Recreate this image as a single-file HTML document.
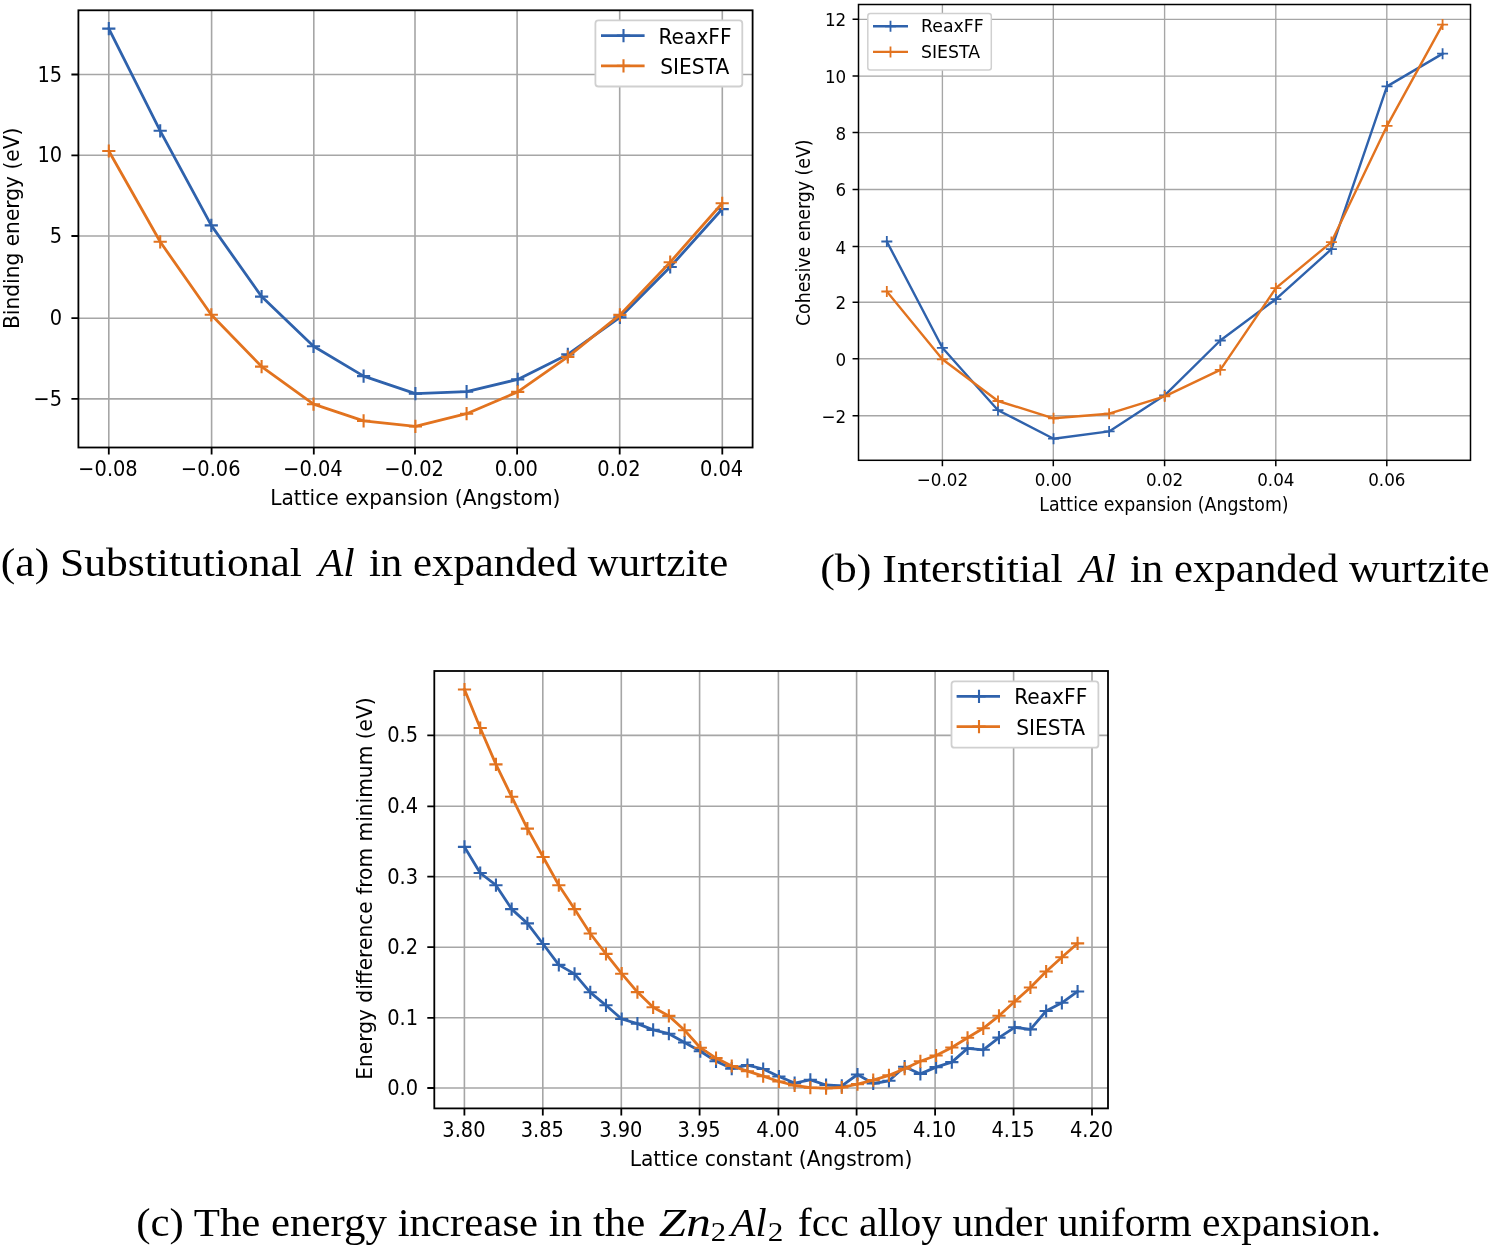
<!DOCTYPE html><html><head><meta charset="utf-8"><title>Figure</title><style>html,body{margin:0;padding:0;background:#fff;}svg{display:block;}</style></head><body>
<svg width="1491" height="1249" viewBox="0 0 1491 1249">
<rect width="1491" height="1249" fill="#fff"/>
<clipPath id="ca"><rect x="78.4" y="10.3" width="674.2" height="437.2"/></clipPath>
<path d="M108.8 10.3V447.5M211.6 10.3V447.5M313.8 10.3V447.5M415 10.3V447.5M517.1 10.3V447.5M619.7 10.3V447.5M722.3 10.3V447.5M78.4 74.5H752.6M78.4 155.3H752.6M78.4 236H752.6M78.4 318.2H752.6M78.4 398.9H752.6" stroke="#a6a6a6" stroke-width="1.6" fill="none"/>
<g clip-path="url(#ca)">
<path d="M108.8 28.6 L160.2 130.8 L211.3 225.4 L261.6 296.6 L313.5 346.3 L363.6 376.1 L415.4 393.6 L466.6 391.7 L517.7 379.4 L567.8 354.4 L619.9 317.4 L670.2 267 L722.2 209.1" stroke="#2f62ac" stroke-width="2.8" fill="none" stroke-linejoin="round" stroke-linecap="square"/>
<path d="M102.2 28.6h13.2M108.8 22v13.2M153.6 130.8h13.2M160.2 124.2v13.2M204.7 225.4h13.2M211.3 218.8v13.2M255 296.6h13.2M261.6 290v13.2M306.9 346.3h13.2M313.5 339.7v13.2M357 376.1h13.2M363.6 369.5v13.2M408.8 393.6h13.2M415.4 387v13.2M460 391.7h13.2M466.6 385.1v13.2M511.1 379.4h13.2M517.7 372.8v13.2M561.2 354.4h13.2M567.8 347.8v13.2M613.3 317.4h13.2M619.9 310.8v13.2M663.6 267h13.2M670.2 260.4v13.2M715.6 209.1h13.2M722.2 202.5v13.2" stroke="#2f62ac" stroke-width="2.1" fill="none"/>
<path d="M108.8 151 L160.2 241.8 L211.3 314.8 L261.6 366.6 L313.5 404.2 L363.6 420.9 L415.4 426.4 L466.6 413.7 L517.7 391.9 L567.8 356.9 L619.9 314.9 L670.2 262.2 L722.2 203.3" stroke="#e2731f" stroke-width="2.8" fill="none" stroke-linejoin="round" stroke-linecap="square"/>
<path d="M102.2 151h13.2M108.8 144.4v13.2M153.6 241.8h13.2M160.2 235.2v13.2M204.7 314.8h13.2M211.3 308.2v13.2M255 366.6h13.2M261.6 360v13.2M306.9 404.2h13.2M313.5 397.6v13.2M357 420.9h13.2M363.6 414.3v13.2M408.8 426.4h13.2M415.4 419.8v13.2M460 413.7h13.2M466.6 407.1v13.2M511.1 391.9h13.2M517.7 385.3v13.2M561.2 356.9h13.2M567.8 350.3v13.2M613.3 314.9h13.2M619.9 308.3v13.2M663.6 262.2h13.2M670.2 255.6v13.2M715.6 203.3h13.2M722.2 196.7v13.2" stroke="#e2731f" stroke-width="2.1" fill="none"/>
</g>
<path d="M108.8 447.5v7M211.6 447.5v7M313.8 447.5v7M415 447.5v7M517.1 447.5v7M619.7 447.5v7M722.3 447.5v7M78.4 74.5h-7M78.4 155.3h-7M78.4 236h-7M78.4 318.2h-7M78.4 398.9h-7" stroke="#000" stroke-width="1.8" fill="none"/>
<rect x="78.4" y="10.3" width="674.2" height="437.2" fill="none" stroke="#000" stroke-width="1.8" stroke-linejoin="miter" stroke-linecap="square"/>
<g font-family="DejaVu Sans, Liberation Sans, sans-serif" font-size="20" fill="#000">
<text transform="translate(108 475.7) scale(0.97 1.07)" text-anchor="middle">−0.08</text>
<text transform="translate(210.8 475.7) scale(0.97 1.07)" text-anchor="middle">−0.06</text>
<text transform="translate(313 475.7) scale(0.97 1.07)" text-anchor="middle">−0.04</text>
<text transform="translate(414.2 475.7) scale(0.97 1.07)" text-anchor="middle">−0.02</text>
<text transform="translate(516.3 475.7) scale(0.97 1.07)" text-anchor="middle">0.00</text>
<text transform="translate(618.9 475.7) scale(0.97 1.07)" text-anchor="middle">0.02</text>
<text transform="translate(721.5 475.7) scale(0.97 1.07)" text-anchor="middle">0.04</text>
<text transform="translate(62.2 81.5) scale(0.97 1.07)" text-anchor="end">15</text>
<text transform="translate(62.2 162.3) scale(0.97 1.07)" text-anchor="end">10</text>
<text transform="translate(62.2 243) scale(0.97 1.07)" text-anchor="end">5</text>
<text transform="translate(62.2 325.2) scale(0.97 1.07)" text-anchor="end">0</text>
<text transform="translate(62.2 405.9) scale(0.97 1.07)" text-anchor="end">−5</text>
<text transform="translate(415.3 504.8) scale(1 1.07)" text-anchor="middle" font-size="20.2">Lattice expansion (Angstom)</text>
<text transform="translate(18.6 228.3) rotate(-90) scale(1 1.07)" x="0" y="0" text-anchor="middle" font-size="20.2">Binding energy (eV)</text>
</g>
<rect x="595.4" y="20.4" width="146.9" height="66.1" rx="3" ry="3" fill="#fff" stroke="#d0d0d0" stroke-width="1.8"/>
<path d="M601 35.6H644.6" stroke="#2f62ac" stroke-width="2.8"/>
<path d="M616.9 35.6h13.2M623.5 29v13.2" stroke="#2f62ac" stroke-width="2.1"/>
<text transform="translate(658.5 43.6) scale(1 1.07)" font-family="DejaVu Sans, Liberation Sans, sans-serif" font-size="20.2">ReaxFF</text>
<path d="M601 65.9H644.6" stroke="#e2731f" stroke-width="2.8"/>
<path d="M616.9 65.9h13.2M623.5 59.3v13.2" stroke="#e2731f" stroke-width="2.1"/>
<text transform="translate(660.3 73.8) scale(1 1.07)" font-family="DejaVu Sans, Liberation Sans, sans-serif" font-size="20.2">SIESTA</text>
<clipPath id="cb"><rect x="858.5" y="4.5" width="612" height="455.8"/></clipPath>
<path d="M942.4 4.5V460.3M1053.3 4.5V460.3M1164.6 4.5V460.3M1275.8 4.5V460.3M1386.8 4.5V460.3M858.5 19.35H1470.5M858.5 76.1H1470.5M858.5 132.6H1470.5M858.5 189.5H1470.5M858.5 246.6H1470.5M858.5 302.3H1470.5M858.5 358.8H1470.5M858.5 415.7H1470.5" stroke="#a6a6a6" stroke-width="1.36" fill="none"/>
<g clip-path="url(#cb)">
<path d="M886.82 241.5 L942.4 347.8 L997.98 410.2 L1053.55 438.7 L1109.12 431.4 L1164.7 395.3 L1220.28 340.5 L1275.85 299.2 L1331.42 249.2 L1387 86.4 L1442.58 53.7" stroke="#2f62ac" stroke-width="2.4" fill="none" stroke-linejoin="round" stroke-linecap="square"/>
<path d="M881.32 241.5h11M886.82 236v11M936.9 347.8h11M942.4 342.3v11M992.48 410.2h11M997.98 404.7v11M1048.05 438.7h11M1053.55 433.2v11M1103.62 431.4h11M1109.12 425.9v11M1159.2 395.3h11M1164.7 389.8v11M1214.78 340.5h11M1220.28 335v11M1270.35 299.2h11M1275.85 293.7v11M1325.92 249.2h11M1331.42 243.7v11M1381.5 86.4h11M1387 80.9v11M1437.08 53.7h11M1442.58 48.2v11" stroke="#2f62ac" stroke-width="1.8" fill="none"/>
<path d="M886.82 291.5 L942.4 359.3 L997.98 401 L1053.55 418.3 L1109.12 413.7 L1164.7 396.4 L1220.28 369.9 L1275.85 288.2 L1331.42 242.1 L1387 125.9 L1442.58 24.6" stroke="#e2731f" stroke-width="2.4" fill="none" stroke-linejoin="round" stroke-linecap="square"/>
<path d="M881.32 291.5h11M886.82 286v11M936.9 359.3h11M942.4 353.8v11M992.48 401h11M997.98 395.5v11M1048.05 418.3h11M1053.55 412.8v11M1103.62 413.7h11M1109.12 408.2v11M1159.2 396.4h11M1164.7 390.9v11M1214.78 369.9h11M1220.28 364.4v11M1270.35 288.2h11M1275.85 282.7v11M1325.92 242.1h11M1331.42 236.6v11M1381.5 125.9h11M1387 120.4v11M1437.08 24.6h11M1442.58 19.1v11" stroke="#e2731f" stroke-width="1.8" fill="none"/>
</g>
<path d="M942.4 460.3v5.95M1053.3 460.3v5.95M1164.6 460.3v5.95M1275.8 460.3v5.95M1386.8 460.3v5.95M858.5 19.35h-5.95M858.5 76.1h-5.95M858.5 132.6h-5.95M858.5 189.5h-5.95M858.5 246.6h-5.95M858.5 302.3h-5.95M858.5 358.8h-5.95M858.5 415.7h-5.95" stroke="#000" stroke-width="1.5" fill="none"/>
<rect x="858.5" y="4.5" width="612" height="455.8" fill="none" stroke="#000" stroke-width="1.5" stroke-linejoin="miter" stroke-linecap="square"/>
<g font-family="DejaVu Sans, Liberation Sans, sans-serif" font-size="17.1" fill="#000">
<text transform="translate(942.4 485.7) scale(0.98 1.07)" text-anchor="middle">−0.02</text>
<text transform="translate(1053.3 485.7) scale(0.98 1.07)" text-anchor="middle">0.00</text>
<text transform="translate(1164.6 485.7) scale(0.98 1.07)" text-anchor="middle">0.02</text>
<text transform="translate(1275.8 485.7) scale(0.98 1.07)" text-anchor="middle">0.04</text>
<text transform="translate(1386.8 485.7) scale(0.98 1.07)" text-anchor="middle">0.06</text>
<text transform="translate(846.2 26.25) scale(0.98 1.07)" text-anchor="end">12</text>
<text transform="translate(846.2 83) scale(0.98 1.07)" text-anchor="end">10</text>
<text transform="translate(846.2 139.5) scale(0.98 1.07)" text-anchor="end">8</text>
<text transform="translate(846.2 196.4) scale(0.98 1.07)" text-anchor="end">6</text>
<text transform="translate(846.2 253.5) scale(0.98 1.07)" text-anchor="end">4</text>
<text transform="translate(846.2 309.2) scale(0.98 1.07)" text-anchor="end">2</text>
<text transform="translate(846.2 365.7) scale(0.98 1.07)" text-anchor="end">0</text>
<text transform="translate(846.2 422.6) scale(0.98 1.07)" text-anchor="end">−2</text>
<text transform="translate(1163.9 510.8) scale(1 1.07)" text-anchor="middle" font-size="17.35">Lattice expansion (Angstom)</text>
<text transform="translate(809.9 232.7) rotate(-90) scale(1 1.07)" x="0" y="0" text-anchor="middle" font-size="17.35">Cohesive energy (eV)</text>
</g>
<rect x="867.8" y="13.6" width="123.5" height="56.5" rx="2.56" ry="2.56" fill="#fff" stroke="#d0d0d0" stroke-width="1.5"/>
<path d="M873 26.3H908" stroke="#2f62ac" stroke-width="2.4"/>
<path d="M885 26.3h11M890.5 20.8v11" stroke="#2f62ac" stroke-width="1.8"/>
<text transform="translate(921 32.2) scale(1 1.07)" font-family="DejaVu Sans, Liberation Sans, sans-serif" font-size="17.3">ReaxFF</text>
<path d="M873 51.9H908" stroke="#e2731f" stroke-width="2.4"/>
<path d="M885 51.9h11M890.5 46.4v11" stroke="#e2731f" stroke-width="1.8"/>
<text transform="translate(921 58.3) scale(1 1.07)" font-family="DejaVu Sans, Liberation Sans, sans-serif" font-size="17.3">SIESTA</text>
<clipPath id="cc"><rect x="434.3" y="671" width="673.7" height="437.4"/></clipPath>
<path d="M464.4 671V1108.4M542.8 671V1108.4M621.3 671V1108.4M699.6 671V1108.4M778.4 671V1108.4M856.6 671V1108.4M935.1 671V1108.4M1013.6 671V1108.4M1092 671V1108.4M434.3 1088H1108M434.3 1017.8H1108M434.3 947.2H1108M434.3 876.7H1108M434.3 806.3H1108M434.3 735.4H1108" stroke="#a6a6a6" stroke-width="1.6" fill="none"/>
<g clip-path="url(#cc)">
<path d="M464.5 846.9 L480.22 873 L495.94 885.2 L511.66 909.1 L527.38 923.4 L543.1 944 L558.82 964.9 L574.54 973.9 L590.26 992.3 L605.98 1005.3 L621.7 1019 L637.42 1023.6 L653.14 1029.9 L668.86 1033.7 L684.58 1042.5 L700.3 1051.2 L716.02 1061.3 L731.74 1068.6 L747.46 1065.1 L763.18 1069 L778.9 1076.5 L794.62 1083 L810.34 1079.8 L826.06 1085 L841.78 1085.8 L857.5 1074.5 L873.22 1083.5 L888.94 1080.8 L904.66 1066.7 L920.38 1073.9 L936.1 1067.1 L951.82 1062.1 L967.54 1048.4 L983.26 1049.8 L998.98 1037.6 L1014.7 1027.3 L1030.42 1029.4 L1046.14 1011 L1061.86 1002.8 L1077.58 991.5" stroke="#2f62ac" stroke-width="2.8" fill="none" stroke-linejoin="round" stroke-linecap="square"/>
<path d="M457.9 846.9h13.2M464.5 840.3v13.2M473.62 873h13.2M480.22 866.4v13.2M489.34 885.2h13.2M495.94 878.6v13.2M505.06 909.1h13.2M511.66 902.5v13.2M520.78 923.4h13.2M527.38 916.8v13.2M536.5 944h13.2M543.1 937.4v13.2M552.22 964.9h13.2M558.82 958.3v13.2M567.94 973.9h13.2M574.54 967.3v13.2M583.66 992.3h13.2M590.26 985.7v13.2M599.38 1005.3h13.2M605.98 998.7v13.2M615.1 1019h13.2M621.7 1012.4v13.2M630.82 1023.6h13.2M637.42 1017v13.2M646.54 1029.9h13.2M653.14 1023.3v13.2M662.26 1033.7h13.2M668.86 1027.1v13.2M677.98 1042.5h13.2M684.58 1035.9v13.2M693.7 1051.2h13.2M700.3 1044.6v13.2M709.42 1061.3h13.2M716.02 1054.7v13.2M725.14 1068.6h13.2M731.74 1062v13.2M740.86 1065.1h13.2M747.46 1058.5v13.2M756.58 1069h13.2M763.18 1062.4v13.2M772.3 1076.5h13.2M778.9 1069.9v13.2M788.02 1083h13.2M794.62 1076.4v13.2M803.74 1079.8h13.2M810.34 1073.2v13.2M819.46 1085h13.2M826.06 1078.4v13.2M835.18 1085.8h13.2M841.78 1079.2v13.2M850.9 1074.5h13.2M857.5 1067.9v13.2M866.62 1083.5h13.2M873.22 1076.9v13.2M882.34 1080.8h13.2M888.94 1074.2v13.2M898.06 1066.7h13.2M904.66 1060.1v13.2M913.78 1073.9h13.2M920.38 1067.3v13.2M929.5 1067.1h13.2M936.1 1060.5v13.2M945.22 1062.1h13.2M951.82 1055.5v13.2M960.94 1048.4h13.2M967.54 1041.8v13.2M976.66 1049.8h13.2M983.26 1043.2v13.2M992.38 1037.6h13.2M998.98 1031v13.2M1008.1 1027.3h13.2M1014.7 1020.7v13.2M1023.82 1029.4h13.2M1030.42 1022.8v13.2M1039.54 1011h13.2M1046.14 1004.4v13.2M1055.26 1002.8h13.2M1061.86 996.2v13.2M1070.98 991.5h13.2M1077.58 984.9v13.2" stroke="#2f62ac" stroke-width="2.1" fill="none"/>
<path d="M464.5 689.5 L480.22 728 L495.94 764.4 L511.66 796.7 L527.38 828.6 L543.1 857 L558.82 885.2 L574.54 909.1 L590.26 933.5 L605.98 953.9 L621.7 973.7 L637.42 992.1 L653.14 1007.3 L668.86 1015.9 L684.58 1030.2 L700.3 1047.7 L716.02 1058.1 L731.74 1066 L747.46 1071.2 L763.18 1076.2 L778.9 1081.5 L794.62 1085.5 L810.34 1087.7 L826.06 1088.1 L841.78 1087.5 L857.5 1084.1 L873.22 1080.1 L888.94 1075.4 L904.66 1068.7 L920.38 1061.3 L936.1 1055.5 L951.82 1047.5 L967.54 1037.8 L983.26 1028.3 L998.98 1015.8 L1014.7 1001.5 L1030.42 987.5 L1046.14 971.5 L1061.86 957.3 L1077.58 943.4" stroke="#e2731f" stroke-width="2.8" fill="none" stroke-linejoin="round" stroke-linecap="square"/>
<path d="M457.9 689.5h13.2M464.5 682.9v13.2M473.62 728h13.2M480.22 721.4v13.2M489.34 764.4h13.2M495.94 757.8v13.2M505.06 796.7h13.2M511.66 790.1v13.2M520.78 828.6h13.2M527.38 822v13.2M536.5 857h13.2M543.1 850.4v13.2M552.22 885.2h13.2M558.82 878.6v13.2M567.94 909.1h13.2M574.54 902.5v13.2M583.66 933.5h13.2M590.26 926.9v13.2M599.38 953.9h13.2M605.98 947.3v13.2M615.1 973.7h13.2M621.7 967.1v13.2M630.82 992.1h13.2M637.42 985.5v13.2M646.54 1007.3h13.2M653.14 1000.7v13.2M662.26 1015.9h13.2M668.86 1009.3v13.2M677.98 1030.2h13.2M684.58 1023.6v13.2M693.7 1047.7h13.2M700.3 1041.1v13.2M709.42 1058.1h13.2M716.02 1051.5v13.2M725.14 1066h13.2M731.74 1059.4v13.2M740.86 1071.2h13.2M747.46 1064.6v13.2M756.58 1076.2h13.2M763.18 1069.6v13.2M772.3 1081.5h13.2M778.9 1074.9v13.2M788.02 1085.5h13.2M794.62 1078.9v13.2M803.74 1087.7h13.2M810.34 1081.1v13.2M819.46 1088.1h13.2M826.06 1081.5v13.2M835.18 1087.5h13.2M841.78 1080.9v13.2M850.9 1084.1h13.2M857.5 1077.5v13.2M866.62 1080.1h13.2M873.22 1073.5v13.2M882.34 1075.4h13.2M888.94 1068.8v13.2M898.06 1068.7h13.2M904.66 1062.1v13.2M913.78 1061.3h13.2M920.38 1054.7v13.2M929.5 1055.5h13.2M936.1 1048.9v13.2M945.22 1047.5h13.2M951.82 1040.9v13.2M960.94 1037.8h13.2M967.54 1031.2v13.2M976.66 1028.3h13.2M983.26 1021.7v13.2M992.38 1015.8h13.2M998.98 1009.2v13.2M1008.1 1001.5h13.2M1014.7 994.9v13.2M1023.82 987.5h13.2M1030.42 980.9v13.2M1039.54 971.5h13.2M1046.14 964.9v13.2M1055.26 957.3h13.2M1061.86 950.7v13.2M1070.98 943.4h13.2M1077.58 936.8v13.2" stroke="#e2731f" stroke-width="2.1" fill="none"/>
</g>
<path d="M464.4 1108.4v7M542.8 1108.4v7M621.3 1108.4v7M699.6 1108.4v7M778.4 1108.4v7M856.6 1108.4v7M935.1 1108.4v7M1013.6 1108.4v7M1092 1108.4v7M434.3 1088h-7M434.3 1017.8h-7M434.3 947.2h-7M434.3 876.7h-7M434.3 806.3h-7M434.3 735.4h-7" stroke="#000" stroke-width="1.8" fill="none"/>
<rect x="434.3" y="671" width="673.7" height="437.4" fill="none" stroke="#000" stroke-width="1.8" stroke-linejoin="miter" stroke-linecap="square"/>
<g font-family="DejaVu Sans, Liberation Sans, sans-serif" font-size="20" fill="#000">
<text transform="translate(463.9 1137.4) scale(0.97 1.07)" text-anchor="middle">3.80</text>
<text transform="translate(542.3 1137.4) scale(0.97 1.07)" text-anchor="middle">3.85</text>
<text transform="translate(620.8 1137.4) scale(0.97 1.07)" text-anchor="middle">3.90</text>
<text transform="translate(699.1 1137.4) scale(0.97 1.07)" text-anchor="middle">3.95</text>
<text transform="translate(777.9 1137.4) scale(0.97 1.07)" text-anchor="middle">4.00</text>
<text transform="translate(856.1 1137.4) scale(0.97 1.07)" text-anchor="middle">4.05</text>
<text transform="translate(934.6 1137.4) scale(0.97 1.07)" text-anchor="middle">4.10</text>
<text transform="translate(1013.1 1137.4) scale(0.97 1.07)" text-anchor="middle">4.15</text>
<text transform="translate(1091.5 1137.4) scale(0.97 1.07)" text-anchor="middle">4.20</text>
<text transform="translate(418 1095) scale(0.97 1.07)" text-anchor="end">0.0</text>
<text transform="translate(418 1024.8) scale(0.97 1.07)" text-anchor="end">0.1</text>
<text transform="translate(418 954.2) scale(0.97 1.07)" text-anchor="end">0.2</text>
<text transform="translate(418 883.7) scale(0.97 1.07)" text-anchor="end">0.3</text>
<text transform="translate(418 813.3) scale(0.97 1.07)" text-anchor="end">0.4</text>
<text transform="translate(418 742.4) scale(0.97 1.07)" text-anchor="end">0.5</text>
<text transform="translate(771 1166.1) scale(1 1.07)" text-anchor="middle" font-size="20.2">Lattice constant (Angstrom)</text>
<text transform="translate(372.4 888.5) rotate(-90) scale(1 1.07)" x="0" y="0" text-anchor="middle" font-size="20.2">Energy difference from minimum (eV)</text>
</g>
<rect x="951.5" y="681.3" width="146.9" height="66.4" rx="3" ry="3" fill="#fff" stroke="#d0d0d0" stroke-width="1.8"/>
<path d="M956.6 696.4H1000" stroke="#2f62ac" stroke-width="2.8"/>
<path d="M972.4 696.4h13.2M979 689.8v13.2" stroke="#2f62ac" stroke-width="2.1"/>
<text transform="translate(1014.2 704.2) scale(1 1.07)" font-family="DejaVu Sans, Liberation Sans, sans-serif" font-size="20.2">ReaxFF</text>
<path d="M956.6 726.6H1000" stroke="#e2731f" stroke-width="2.8"/>
<path d="M972.4 726.6h13.2M979 720v13.2" stroke="#e2731f" stroke-width="2.1"/>
<text transform="translate(1016.2 734.8) scale(1 1.07)" font-family="DejaVu Sans, Liberation Sans, sans-serif" font-size="20.2">SIESTA</text>
<g fill="#000">
<text x="0.87" y="575.7" textLength="301.05" lengthAdjust="spacingAndGlyphs" font-family="Liberation Serif, DejaVu Serif, serif" font-size="39">(a) Substitutional</text>
<text x="318.2" y="575.7" textLength="36.41" lengthAdjust="spacingAndGlyphs" font-family="Liberation Serif, DejaVu Serif, serif" font-size="39" font-style="italic">Al</text>
<text x="368.9" y="575.7" textLength="359.35" lengthAdjust="spacingAndGlyphs" font-family="Liberation Serif, DejaVu Serif, serif" font-size="39">in expanded wurtzite</text>
<text x="820.15" y="581.5" textLength="242.63" lengthAdjust="spacingAndGlyphs" font-family="Liberation Serif, DejaVu Serif, serif" font-size="39">(b) Interstitial</text>
<text x="1079.41" y="581.5" textLength="36.5" lengthAdjust="spacingAndGlyphs" font-family="Liberation Serif, DejaVu Serif, serif" font-size="39" font-style="italic">Al</text>
<text x="1129.9" y="581.5" textLength="359.55" lengthAdjust="spacingAndGlyphs" font-family="Liberation Serif, DejaVu Serif, serif" font-size="39">in expanded wurtzite</text>
<text x="136.2" y="1235.5" textLength="509.1" lengthAdjust="spacingAndGlyphs" font-family="Liberation Serif, DejaVu Serif, serif" font-size="39">(c) The energy increase in the</text>
<text x="658.84" y="1235.5" textLength="51.87" lengthAdjust="spacingAndGlyphs" font-family="Liberation Serif, DejaVu Serif, serif" font-size="39" font-style="italic">Zn</text>
<text x="710.66" y="1241.3" textLength="15.34" lengthAdjust="spacingAndGlyphs" font-family="Liberation Serif, DejaVu Serif, serif" font-size="27">2</text>
<text x="730.87" y="1235.5" textLength="35.83" lengthAdjust="spacingAndGlyphs" font-family="Liberation Serif, DejaVu Serif, serif" font-size="39" font-style="italic">Al</text>
<text x="767.85" y="1241.3" textLength="15.59" lengthAdjust="spacingAndGlyphs" font-family="Liberation Serif, DejaVu Serif, serif" font-size="27">2</text>
<text x="797.83" y="1235.5" textLength="583.28" lengthAdjust="spacingAndGlyphs" font-family="Liberation Serif, DejaVu Serif, serif" font-size="39">fcc alloy under uniform expansion.</text>
</g>
</svg></body></html>
